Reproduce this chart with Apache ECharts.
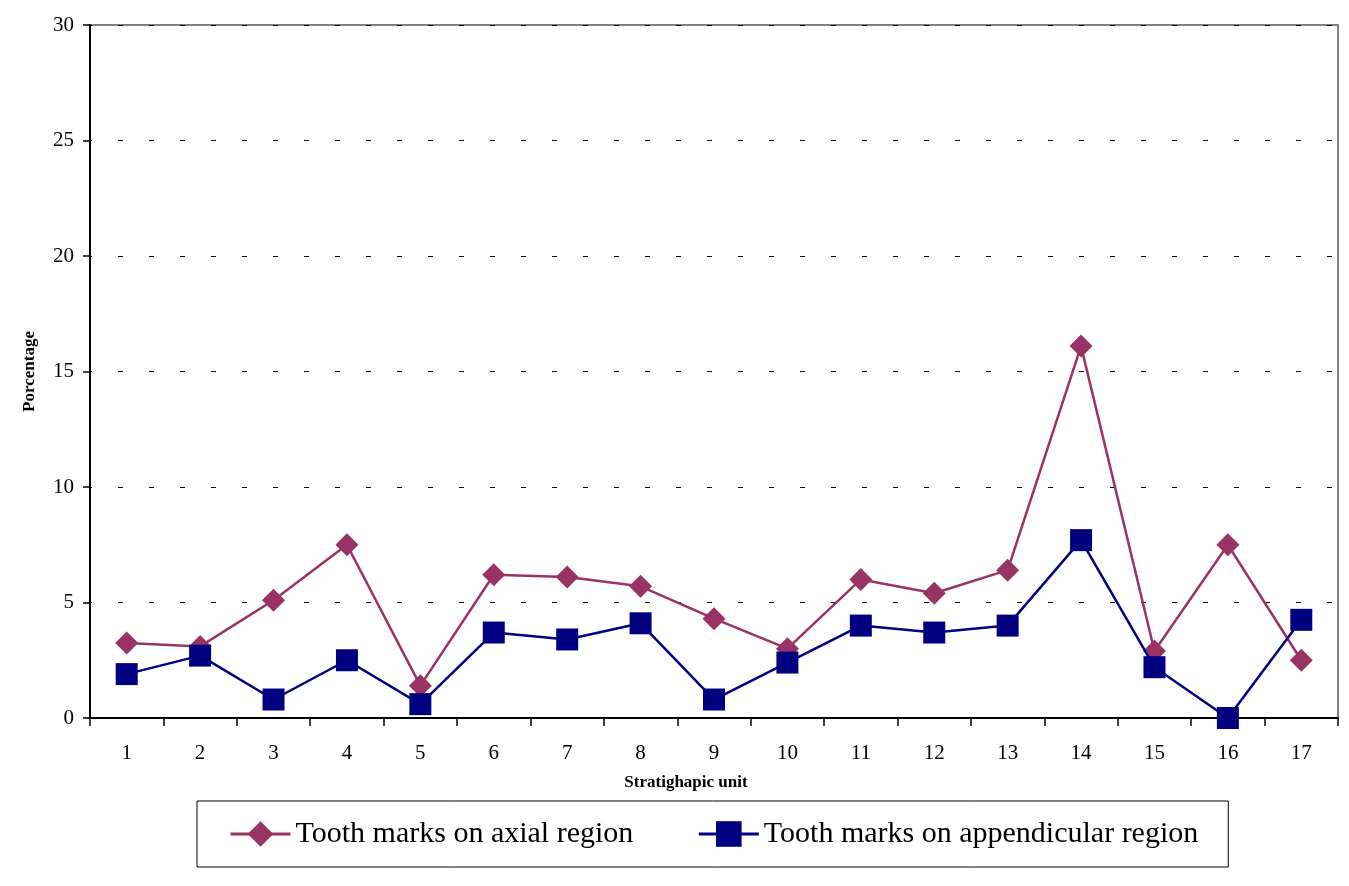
<!DOCTYPE html>
<html>
<head>
<meta charset="utf-8">
<script src="https://cdn.jsdelivr.net/npm/echarts@6/dist/echarts.min.js"></script>
<style>
  html, body { margin: 0; padding: 0; background: #fff; }
  #main { width: 1349px; height: 886px; }
</style>
</head>
<body>
<div id="main"></div>
<script>
var units = ['1','2','3','4','5','6','7','8','9','10','11','12','13','14','15','16','17'];
var axialMarks = [3.25, 3.1, 5.1, 7.5, 1.4, 6.2, 6.1, 5.7, 4.3, 3.0, 6.0, 5.4, 6.4, 16.1, 2.9, 7.5, 2.5];
var appendicularMarks = [1.9, 2.7, 0.8, 2.5, 0.6, 3.7, 3.4, 4.1, 0.8, 2.4, 4.0, 3.7, 4.0, 7.7, 2.2, 0.0, 4.25];
var serif = 'Liberation Serif';

var chart = echarts.init(document.getElementById('main'));
var option = {
  animation: false,
  textStyle: { fontFamily: serif },
  grid: {
    left: 90, top: 25, right: 11, bottom: 168,
    show: true, borderColor: '#808080', borderWidth: 2, backgroundColor: '#fff'
  },
  legend: {
    left: 197, top: 801,
    padding: [18, 30, 18, 32],
    borderColor: '#000', borderWidth: 1,
    itemGap: 64, itemWidth: 60, itemHeight: 32,
    textStyle: { fontFamily: serif, fontSize: 30, color: '#000' },
    lineStyle: { width: 3 },
    data: ['Tooth marks on axial region', 'Tooth marks on appendicular region']
  },
  xAxis: {
    type: 'category',
    data: units,
    boundaryGap: true,
    name: 'Stratighapic unit',
    nameLocation: 'middle',
    nameGap: 56,
    nameTextStyle: { fontFamily: serif, fontSize: 17, fontWeight: 'bold', color: '#000', padding: [0, 56, 0, 0] },
    axisLine: { lineStyle: { color: '#000', width: 2 } },
    axisTick: { show: true, length: 8, alignWithLabel: false, lineStyle: { color: '#000', width: 1.5 } },
    axisLabel: { fontFamily: serif, fontSize: 21, color: '#000', margin: 25 }
  },
  yAxis: {
    type: 'value',
    min: 0, max: 30, interval: 5,
    name: 'Porcentage',
    nameLocation: 'middle',
    nameGap: 52,
    nameTextStyle: { fontFamily: serif, fontSize: 17, fontWeight: 'bold', color: '#000' },
    axisLine: { show: true, lineStyle: { color: '#000', width: 2 } },
    axisTick: { show: true, length: 7, lineStyle: { color: '#000', width: 1.5 } },
    axisLabel: { fontFamily: serif, fontSize: 21, color: '#000', margin: 16 },
    splitLine: { show: true, lineStyle: { color: '#000', width: 1, type: [5, 26], dashOffset: -28 } }
  },
  series: [
    {
      name: 'Tooth marks on axial region',
      type: 'line',
      data: axialMarks,
      symbol: 'diamond',
      symbolSize: 23,
      itemStyle: { color: '#993366' },
      lineStyle: { color: '#993366', width: 2.5 },
      z: 2
    },
    {
      name: 'Tooth marks on appendicular region',
      type: 'line',
      data: appendicularMarks,
      symbol: 'rect',
      symbolSize: 22,
      itemStyle: { color: '#000080' },
      lineStyle: { color: '#000080', width: 2.5 },
      z: 3
    }
  ]
};
chart.setOption(option);
</script>
</body>
</html>
